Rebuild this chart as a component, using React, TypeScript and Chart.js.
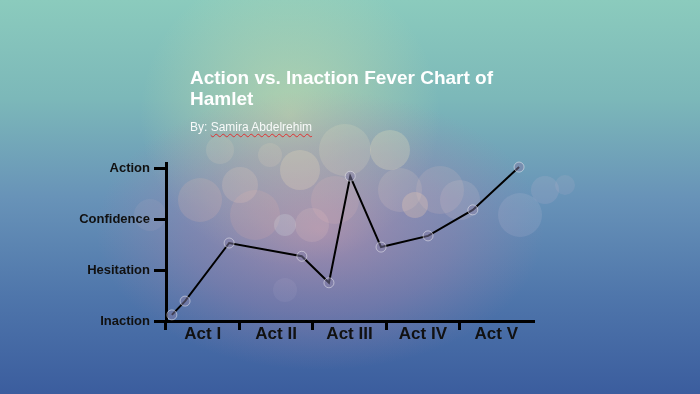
import React, { useEffect, useRef } from "react";
import { Chart, registerables } from "chart.js";
Chart.register(...registerables);

const acts = ["Act I", "Act II", "Act III", "Act IV", "Act V"];
const levelLabels = ["Inaction", "Hesitation", "Confidence", "Action"];
const levelValues = [0, 1, 2, 3];
const eventX = [0.08, 0.26, 0.86, 1.85, 2.22, 2.51, 2.93, 3.57, 4.18, 4.81];
const eventY = [0.12, 0.39, 1.53, 1.27, 0.75, 2.84, 1.45, 1.67, 2.18, 3.02];

const titleText = "Action vs. Inaction Fever Chart of Hamlet";
const byText = "By: ";
const authorText = "Samira Abdelrehim";

const FONT = '"Liberation Sans", Arial, Helvetica, sans-serif';

// decorative bokeh: [x, y, r, color]
const bokeh: [number, number, number, string][] = [
  [200, 200, 22, "rgba(255,200,180,0.14)"],
  [240, 185, 18, "rgba(255,215,190,0.16)"],
  [255, 215, 25, "rgba(255,190,170,0.12)"],
  [300, 170, 20, "rgba(255,235,190,0.2)"],
  [312, 225, 17, "rgba(255,220,200,0.13)"],
  [335, 200, 24, "rgba(255,200,190,0.12)"],
  [345, 150, 26, "rgba(255,240,200,0.14)"],
  [390, 150, 20, "rgba(255,240,190,0.22)"],
  [400, 190, 22, "rgba(255,225,200,0.13)"],
  [415, 205, 13, "rgba(255,215,180,0.25)"],
  [440, 190, 24, "rgba(255,210,200,0.12)"],
  [460, 200, 20, "rgba(255,225,210,0.12)"],
  [520, 215, 22, "rgba(230,210,230,0.12)"],
  [545, 190, 14, "rgba(240,200,220,0.12)"],
  [285, 225, 11, "rgba(220,235,235,0.2)"],
  [285, 290, 12, "rgba(220,200,230,0.08)"],
  [150, 215, 16, "rgba(240,200,210,0.08)"],
  [565, 185, 10, "rgba(240,200,220,0.1)"],
  [220, 150, 14, "rgba(255,230,200,0.12)"],
  [270, 155, 12, "rgba(255,230,200,0.12)"],
];

const bgPlugin = {
  id: "bg",
  beforeDraw(chart: any) {
    const { ctx, width, height } = chart;
    ctx.save();
    const g = ctx.createLinearGradient(0, 0, 0, height);
    g.addColorStop(0, "#8bcbbd");
    g.addColorStop(0.25, "#7cb8b9");
    g.addColorStop(0.5, "#6893b8");
    g.addColorStop(0.75, "#4f76ab");
    g.addColorStop(1, "#3b5d9e");
    ctx.fillStyle = g;
    ctx.fillRect(0, 0, width, height);
    let r = ctx.createRadialGradient(290, 115, 0, 290, 115, 150);
    r.addColorStop(0, "rgba(200,220,170,0.7)");
    r.addColorStop(1, "rgba(200,220,170,0)");
    ctx.fillStyle = r;
    ctx.fillRect(0, 0, width, height);
    ctx.save();
    ctx.translate(320, 230);
    ctx.scale(1.6, 1);
    r = ctx.createRadialGradient(0, 0, 0, 0, 0, 140);
    r.addColorStop(0, "rgba(210,145,170,0.6)");
    r.addColorStop(0.6, "rgba(180,130,170,0.32)");
    r.addColorStop(1, "rgba(170,130,170,0)");
    ctx.fillStyle = r;
    ctx.beginPath();
    ctx.arc(0, 0, 140, 0, Math.PI * 2);
    ctx.fill();
    ctx.restore();
    for (const [x, y, rad, c] of bokeh) {
      ctx.beginPath();
      ctx.arc(x, y, rad, 0, Math.PI * 2);
      ctx.fillStyle = c;
      ctx.fill();
    }
    ctx.restore();
  },
};

export default function App() {
  const ref = useRef<HTMLCanvasElement | null>(null);
  useEffect(() => {
    if (!ref.current) return;
    const chart = new Chart(ref.current, {
      type: "line",
      data: {
        labels: acts,
        datasets: [
          {
            data: eventX.map((x, i) => ({ x, y: eventY[i] })),
            xAxisID: "xv",
            yAxisID: "y",
            borderColor: "#000",
            borderWidth: 2,
            tension: 0,
            pointRadius: 5,
            pointBackgroundColor: "rgba(130,125,165,0.5)",
            pointBorderColor: "rgba(255,255,255,0.45)",
            pointBorderWidth: 1,
            clip: false as any,
          },
        ],
      },
      options: {
        animation: false,
        responsive: false,
        layout: { padding: { left: 0, right: 167, top: 163, bottom: 33 } },
        plugins: { legend: { display: false }, tooltip: { enabled: false }, title: { display: false } },
        scales: {
          x: {
            type: "category",
            position: "bottom",
            offset: true,
            grid: {
              offset: true,
              drawOnChartArea: false,
              tickLength: 9,
              lineWidth: 3,
              color: (c: any) => (c.type === "tick" && c.index < acts.length ? "#000" : "rgba(0,0,0,0)"),
            },
            border: { display: true, color: "#000", width: 3 },
            ticks: {
              font: { family: FONT, size: 17, weight: "bold" },
              color: "#111",
              padding: -6,
              maxRotation: 0,
            },
            afterFit: (s: any) => {
              s.height = 40;
            },
          },
          xv: { type: "linear", min: 0, max: 5, display: false },
          y: {
            type: "linear",
            min: 0,
            max: 3.1,
            afterBuildTicks: (s: any) => {
              s.ticks = levelValues.map((v) => ({ value: v }));
            },
            ticks: {
              callback: (v: any) => {
                const i = levelValues.indexOf(Number(v));
                return i >= 0 ? levelLabels[i] : "";
              },
              font: { family: FONT, size: 13, weight: "bold" },
              color: "#111",
              padding: 4,
            },
            grid: { drawOnChartArea: false, tickLength: 12, lineWidth: 3, color: "#000" },
            border: { display: true, color: "#000", width: 3 },
            afterFit: (s: any) => {
              s.width = 166;
            },
          },
        },
      } as any,
      plugins: [bgPlugin],
    });
    return () => chart.destroy();
  }, []);

  const words = titleText.split(" ");
  const line1 = words.slice(0, words.length - 1).join(" ");
  const line2 = words[words.length - 1];

  return (
    <div style={{ position: "absolute", left: 0, top: 0, width: 700, height: 394, overflow: "hidden" }}>
      <canvas ref={ref} width={700} height={394} style={{ display: "block", width: 700, height: 394 }} />
      <div
        style={{
          position: "absolute",
          left: 190,
          top: 67,
          fontFamily: FONT,
          fontWeight: "bold",
          fontSize: 19,
          lineHeight: "21px",
          color: "#fff",
          whiteSpace: "nowrap",
        }}
      >
        <div>{line1}</div>
        <div>{line2}</div>
      </div>
      <div
        style={{
          position: "absolute",
          left: 190,
          top: 120,
          fontFamily: FONT,
          fontSize: 12,
          lineHeight: "14px",
          color: "rgba(255,255,255,0.92)",
          whiteSpace: "nowrap",
        }}
      >
        {byText}
        <span style={{ textDecoration: "underline wavy #e03030", textDecorationThickness: 1, textUnderlineOffset: 2 }}>
          {authorText}
        </span>
      </div>
    </div>
  );
}
